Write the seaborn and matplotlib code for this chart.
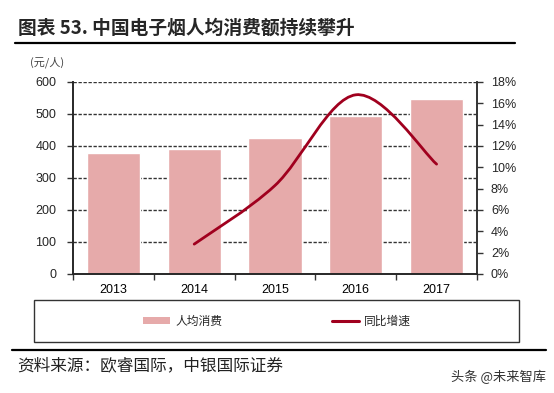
import numpy as np
import pandas as pd
import seaborn as sns
import matplotlib.pyplot as plt
from matplotlib.path import Path
from matplotlib.patches import PathPatch, Rectangle, Patch
from matplotlib.lines import Line2D
from matplotlib.ticker import FuncFormatter, FixedLocator

# data
years = ['2013', '2014', '2015', '2016', '2017']
spend = [378, 390, 424, 494, 546]          # 人均消费 (元/人)
growth_years = ['2014', '2015', '2016', '2017']
growth = [2.8, 8.3, 16.8, 10.3]            # 同比增速 (%)

title = '图表 53. 中国电子烟人均消费额持续攀升'
unit = '(元/人)'
source = '资料来源：欧睿国际，中银国际证券'
mark = '头条 @未来智库'

bar_color = '#E6AAAA'
line_color = '#A0001E'
axis_color = '#333333'
cjk = ['Noto Sans CJK SC', 'DejaVu Sans']

sns.set_theme(style='white')
plt.rcParams['font.family'] = ['Liberation Sans', 'Noto Sans CJK SC', 'DejaVu Sans']

fig = plt.figure(figsize=(5.54, 3.93), dpi=100)
W, H = 554, 393
ax = fig.add_axes([73 / W, 1 - 274 / H, (477 - 73) / W, (274 - 82) / H])

df = pd.DataFrame({'year': years, 'spend': spend})
sns.barplot(data=df, x='year', y='spend', color=bar_color, saturation=1,
            width=0.66, ax=ax, zorder=2)
ax.set_xlim(-0.5, len(years) - 0.5)
ax.set_ylim(0, 600)
ax.set_yticks(range(0, 601, 100))
ax.set_xlabel('')
ax.set_ylabel('')
for y in range(100, 601, 100):
    ax.axhline(y, color='#333333', lw=1.0, ls=(0, (2.4, 1.2)), zorder=1)

# x ticks: labels at centres, marks on category boundaries
ax.tick_params(axis='x', which='major', length=0, pad=7, labelsize=9,
               colors='black')
ax.xaxis.set_minor_locator(FixedLocator(np.arange(-0.5, len(years), 1.0)))
ax.tick_params(axis='x', which='minor', length=4, width=1, direction='out',
               color=axis_color, bottom=True)
ax.tick_params(axis='y', length=4, width=1, direction='out', color=axis_color,
               pad=8, labelsize=9, left=True)
for s in ['left', 'bottom', 'right']:
    ax.spines[s].set_visible(True)
    ax.spines[s].set_color(axis_color)
    ax.spines[s].set_linewidth(1.2)
ax.spines['top'].set_visible(False)

ax2 = ax.twinx()
ax2.set_ylim(0, 18)
ax2.set_yticks(range(0, 19, 2))
ax2.yaxis.set_major_formatter(FuncFormatter(lambda v, p: f'{v:.0f}%'))
ax2.tick_params(axis='y', length=4, width=1, direction='out', color=axis_color,
                pad=6, labelsize=9, right=True)
ax2.spines['top'].set_visible(False)
ax2.spines['right'].set_color(axis_color)
ax2.spines['right'].set_linewidth(1.2)
ax2.grid(False)

# smoothed growth line (Catmull-Rom as bezier segments)
xs = [years.index(y) for y in growth_years]
pts = np.column_stack([xs, growth]).astype(float)
ext = np.vstack([pts[0], pts, pts[-1]])
verts = [tuple(pts[0])]
codes = [Path.MOVETO]
for i in range(len(pts) - 1):
    p0, p1, p2, p3 = ext[i], ext[i + 1], ext[i + 2], ext[i + 3]
    c1 = p1 + (p2 - p0) / 6
    c2 = p2 - (p3 - p1) / 6
    verts += [tuple(c1), tuple(c2), tuple(p2)]
    codes += [Path.CURVE4] * 3
ax2.add_patch(PathPatch(Path(verts, codes), fill=False, edgecolor=line_color,
                        lw=2.0, capstyle='round', zorder=3))

# title and rules
fig.text(18 / W, 1 - 28 / H, title, family=cjk, fontsize=13.5,
         fontweight='bold', va='center', ha='left')
fig.add_artist(Line2D([15 / W, 515 / W], [1 - 43 / H] * 2, color='black',
                      lw=1.6, transform=fig.transFigure))
fig.text(30 / W, 1 - 62 / H, unit, family=cjk, fontsize=8, color='#444444',
         va='center', ha='left')

# legend box
fig.add_artist(Rectangle((34 / W, 1 - 342 / H), (519 - 34) / W, 42 / H,
                         transform=fig.transFigure, fill=False,
                         edgecolor=axis_color, lw=1.0))
handles = [Patch(facecolor=bar_color, edgecolor='none'),
           Line2D([], [], color=line_color, lw=2.2)]
fig.legend(handles, ['人均消费', '同比增速'], loc='center',
           bbox_to_anchor=(277 / W, 1 - 321 / H), ncol=2, frameon=False,
           prop={'family': cjk, 'size': 8.5}, handlelength=2.3,
           handleheight=0.6, handletextpad=0.45, columnspacing=9.3)

fig.add_artist(Line2D([12 / W, 546 / W], [1 - 350 / H] * 2, color='black',
                      lw=1.6, transform=fig.transFigure))
fig.text(17 / W, 1 - 366 / H, source, family=cjk, fontsize=12, style='italic',
         va='center', ha='left', color='#222222')
fig.text(546 / W, 1 - 377 / H, mark, family=cjk, fontsize=9.5, va='center',
         ha='right', color='#333333')

fig.savefig('out.png', dpi=100)
